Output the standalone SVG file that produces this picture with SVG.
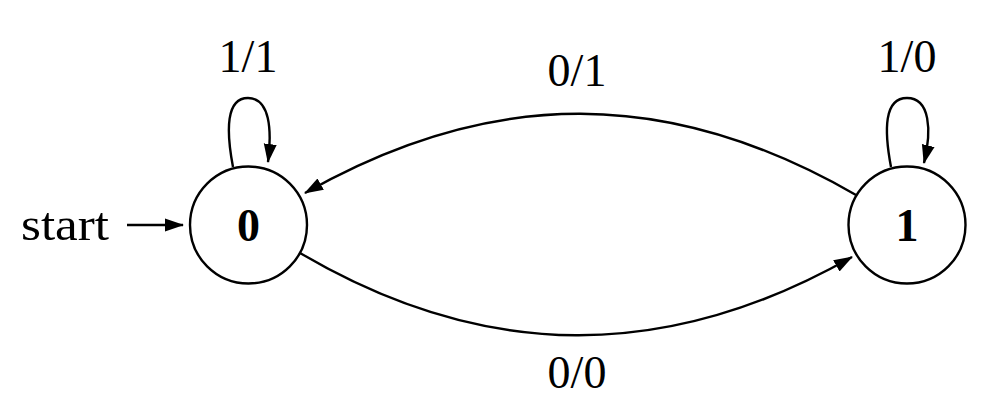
<svg xmlns="http://www.w3.org/2000/svg" width="1006" height="408" viewBox="0 0 1006 408">
<style>
.st{fill:none;stroke:#000;stroke-width:2.4}
.edge{fill:none;stroke:#000;stroke-width:2.4;marker-end:url(#arr)}
.lbl{font-family:"Liberation Serif",serif;font-size:46px;fill:#000;text-anchor:middle}
.nl{font-family:"Liberation Serif",serif;font-size:46px;font-weight:bold;fill:#000;text-anchor:middle}
</style>
<defs>
<marker id="arr" markerUnits="userSpaceOnUse" markerWidth="20" markerHeight="14" viewBox="0 0 20 14" refX="18" refY="7" orient="auto">
<path d="M0,0.5 L19,7 L0,13.5 Z" fill="#000"/>
</marker>
</defs>
<rect width="1006" height="408" fill="#fff"/>
<g id="connectors">
<path class="edge" d="M127,225 L183,225"/>
<path class="edge" d="M233,167 C226,130 226,98 248,98 C270,98 272,130 268,162"/>
<path class="edge" d="M891,167 C884,130 884,98 907,98 C930,98 932,130 924,163"/>
<path class="edge" d="M856,195 C669,87 492,87 305,193"/>
<path class="edge" d="M300,253 C485,362 667,362 852,257"/>
<text class="lbl" x="248" y="72">1/1</text>
<text class="lbl" x="907" y="72">1/0</text>
<text class="lbl" x="577" y="86">0/1</text>
<text class="lbl" x="577" y="388">0/0</text>
</g>
<g id="start">
<text class="lbl" x="65" y="240" textLength="88" lengthAdjust="spacingAndGlyphs">start</text>
</g>
<g id="node0">
<circle class="st" cx="248.5" cy="225" r="58.5"/>
<text class="nl" x="248.5" y="241">0</text>
</g>
<g id="node1">
<circle class="st" cx="907" cy="225" r="58.5"/>
<text class="nl" x="907" y="241">1</text>
</g>
</svg>
